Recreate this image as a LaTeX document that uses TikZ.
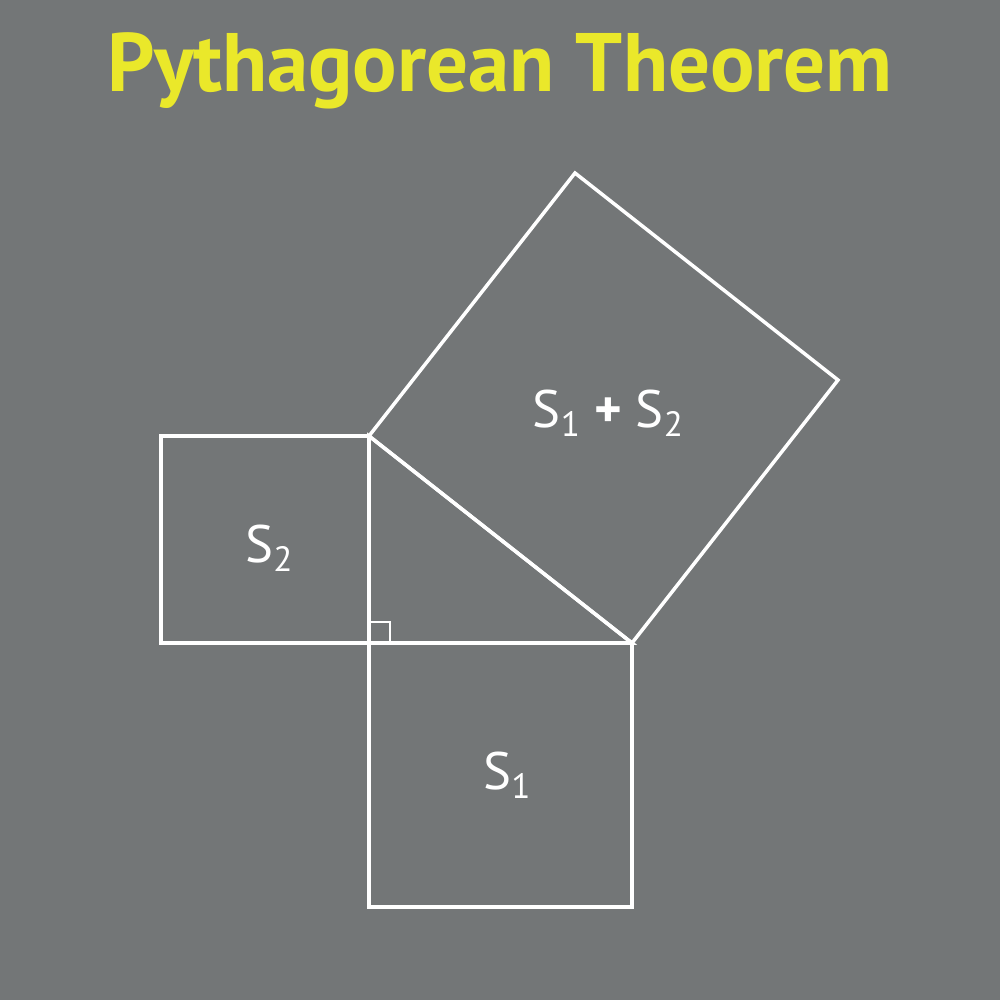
\documentclass[tikz,border=0pt]{standalone}
\usepackage{fontspec}
\setmainfont{PT Sans}
\definecolor{bggray}{HTML}{737677}
\definecolor{titleyellow}{HTML}{EAE82A}
\newcommand{\sq}[1]{S\raisebox{-0.35ex}{\fontsize{10}{12}\selectfont #1}}
\tikzset{
  side/.style={draw=white, line width=1pt, line join=miter},
  area/.style={text=white, font=\fontsize{15}{17}\selectfont},
}
\begin{document}
\begin{tikzpicture}[x=0.1mm,y=-0.1mm]
\fill[bggray] (0,0) rectangle (1000,1000);
\useasboundingbox (0,0) rectangle (1000,1000);
\node[text=titleyellow, font=\bfseries\fontsize{23.6}{28}\selectfont] (title) at (500,71) {Pythagorean Theorem};
% triangle corners
\coordinate (C) at (369,643);
\coordinate (A) at (369,436);
\coordinate (B) at (632,643);
\coordinate (D) at (838,380);
\coordinate (E) at (575,173);
\draw[side] (A) -- (B) -- (C) -- cycle;
\draw[side] (C) -- (A) -- (161,436) -- (161,643) -- cycle;
\draw[side] (C) -- (B) -- (632,907) -- (369,907) -- cycle;
\draw[side] (A) -- (B) -- (D) -- (E) -- cycle;
\draw[white, line width=0.5pt] (369,622) -- (390,622) -- (390,643);
\node[area] (s2) at (269,548) {\sq{2}};
\node[area] (s1) at (507,775) {\sq{1}};
\node[area] (s12) at (608,413) {\sq{1} \textbf{+} \sq{2}};
\end{tikzpicture}
\end{document}
